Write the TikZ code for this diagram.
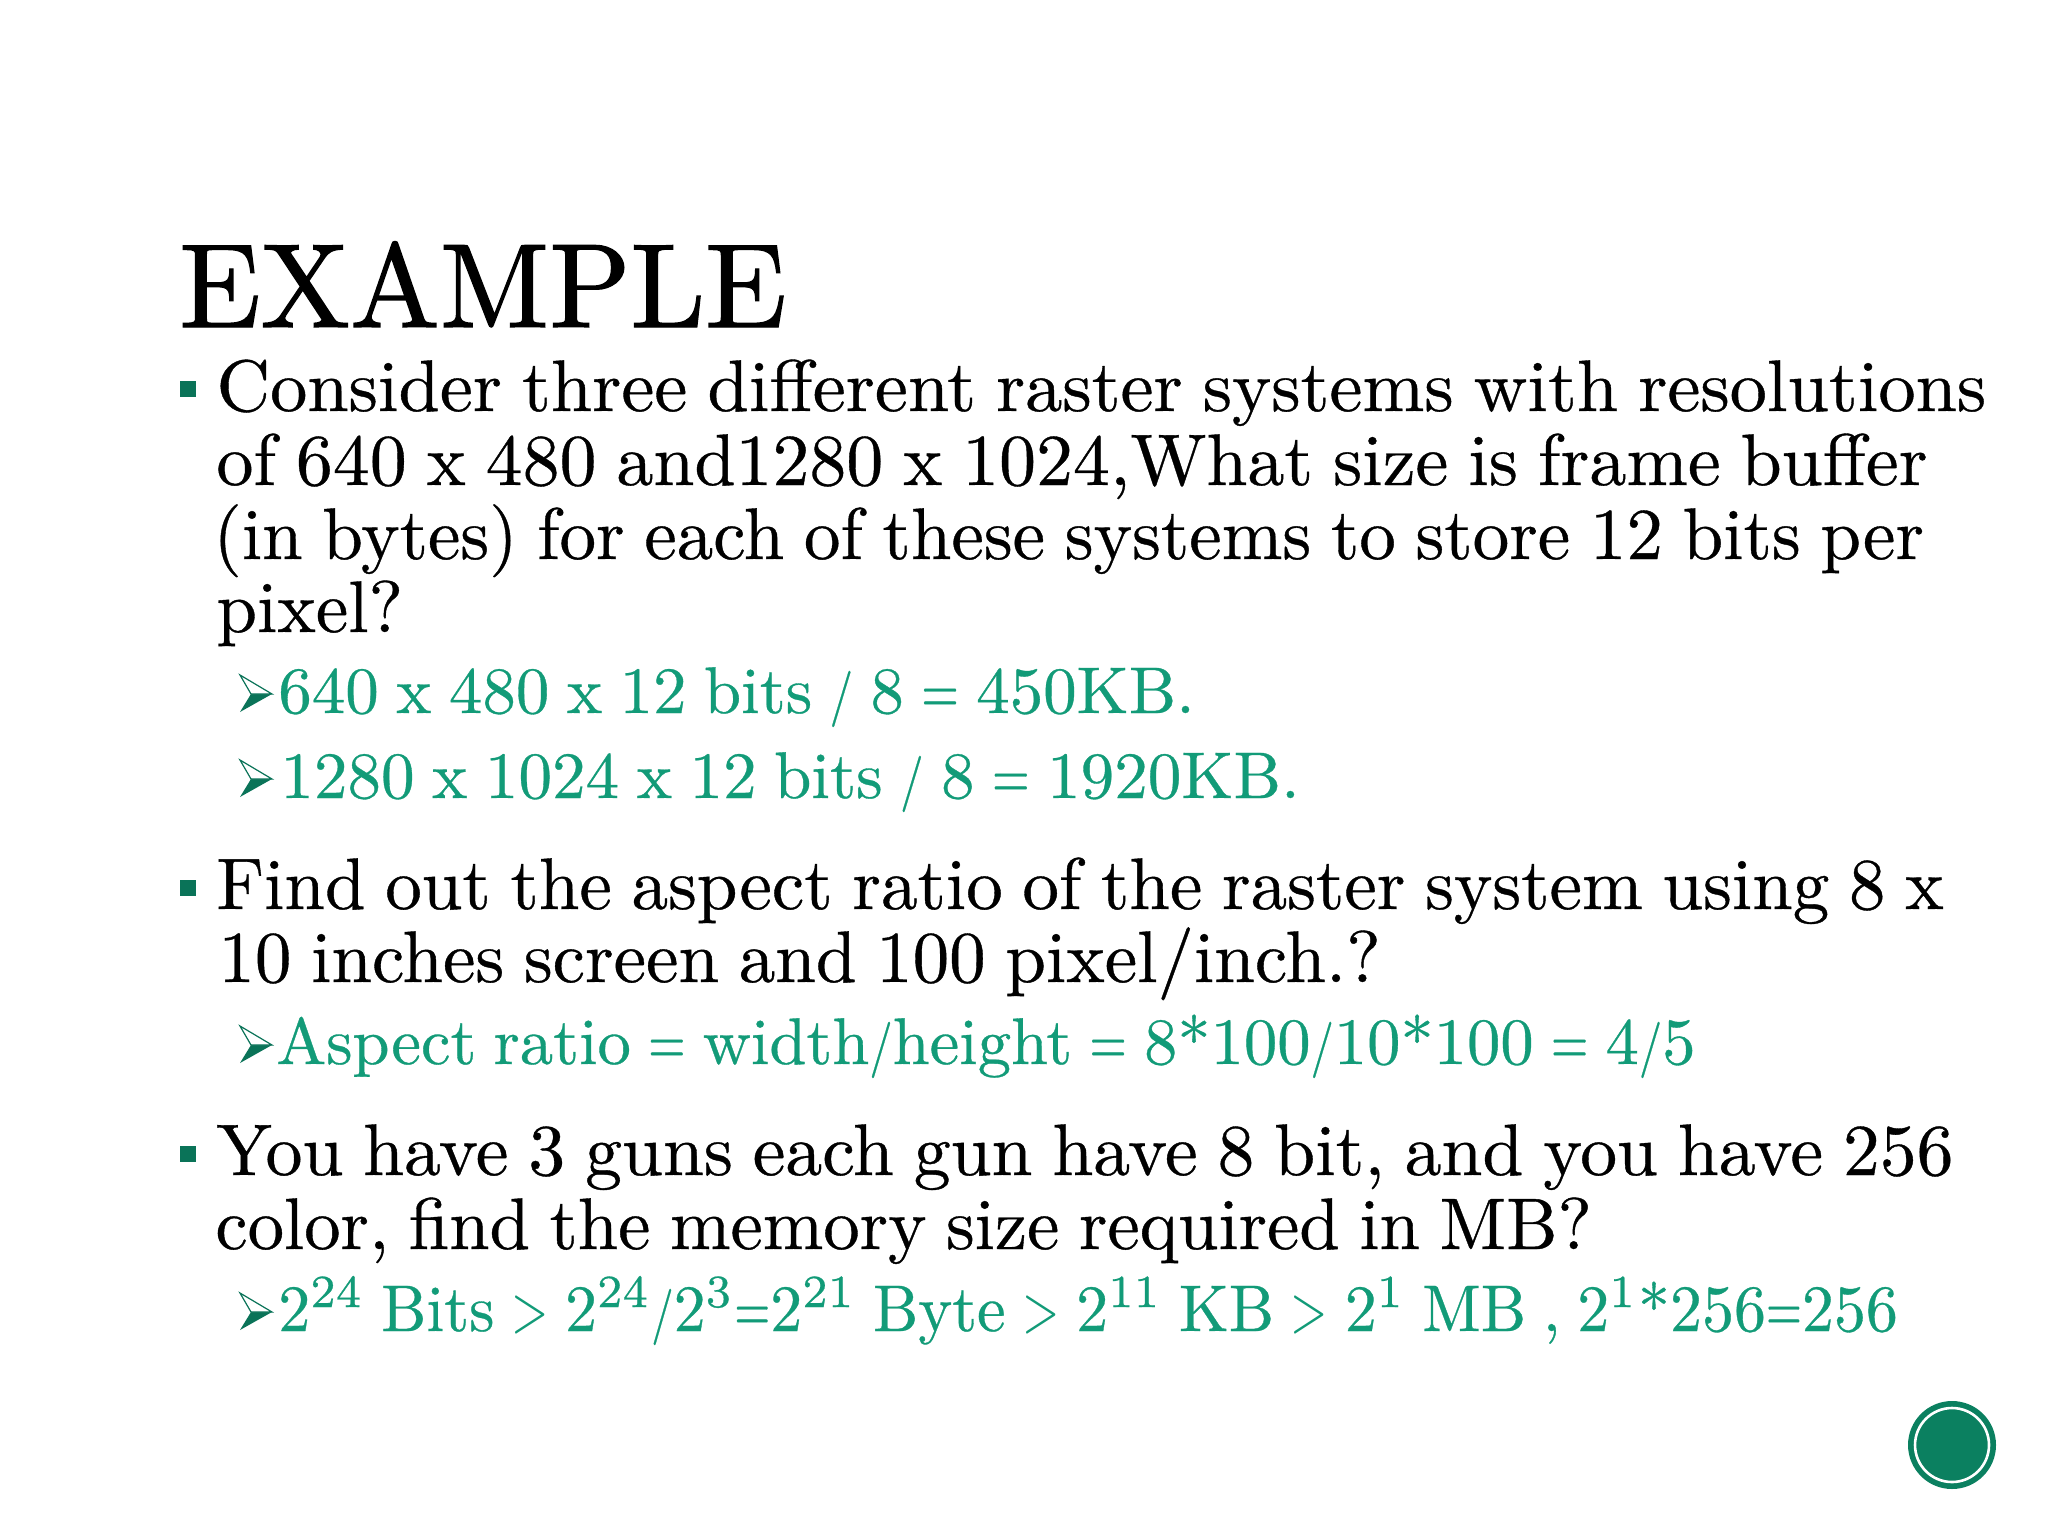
\documentclass[tikz,border=0pt]{standalone}
\usepackage{graphicx}
\usepackage{fontspec}
\usepackage{tikz}
\definecolor{slidegreen}{HTML}{129B78}
\definecolor{darkgreen}{HTML}{0A7358}
\definecolor{badgegreen}{HTML}{0B8060}
\newfontfamily\titlefam{Latin Modern Roman}[FakeBold=1.2]
\newfontfamily\textfam{Latin Modern Roman}[FakeBold=0.5]
\newcommand{\titlefont}{\titlefam}
\newcommand{\bodyfont}{\textfam\spaceskip=2.7pt\relax}
\newcommand{\answerfont}{\textfam\spaceskip=2.6pt\relax}
\newcommand{\nareq}{\scalebox{.72}[1]{=}}
\newcommand{\nargt}{\scalebox{.75}[1]{$>$}}
\newcommand{\narsl}{\scalebox{.7}[.85]{/}}
\tikzset{
  titletxt/.style={anchor=base west, inner sep=0pt, scale=5.97},
  bodytxt/.style={anchor=base west, inner sep=0pt, scale=3.65, text=black},
  answertxt/.style={anchor=base west, inner sep=0pt, scale=3.3, text=slidegreen},
  sqbullet/.style={rectangle, fill=darkgreen, inner sep=0pt, minimum size=8pt},
  arrowbullet/.pic={
    \fill[darkgreen] (0,1) -- (11,19) -- (32,19) -- cycle;
    \draw[darkgreen, fill=white, line width=0.6pt] (0,38) -- (32,19) -- (11,19) -- cycle;
  }
}
\begin{document}
\begin{tikzpicture}[x=0.5pt, y=0.5pt]
  \useasboundingbox[fill=white] (0,0) rectangle (2048,-1536);
  \node (title) [titletxt] at (177,-327) {\titlefont EXAMPLE};
  % first question
  \node (bula) [sqbullet] at (188,-389) {};
  \node (qa1) [bodytxt, xscale=1.018] at (215,-411) {\bodyfont Consider three different raster systems with resolutions};
  \node (qa2) [bodytxt, xscale=1.012] at (215,-485) {\bodyfont of 640 x 480 and1280 x 1024,What size is frame buffer};
  \node (qa3) [bodytxt] at (212,-559) {\bodyfont (in bytes) for each of these systems to store 12 bits per};
  \node (qa4) [bodytxt] at (215,-632) {\bodyfont pixel?};
  \pic at (240,-713) {arrowbullet};
  \node (ansa1) [answertxt, xscale=1.0145] at (277,-713) {\answerfont 640 x 480 x 12 bits \narsl\ 8 \nareq\ 450KB.};
  \pic at (240,-798) {arrowbullet};
  \node (ansa2) [answertxt, xscale=1.017] at (279,-798) {\answerfont 1280 x 1024 x 12 bits \narsl\ 8 \nareq\ 1920KB.};
  % second question
  \node (bulb) [sqbullet] at (188,-888) {};
  \node (qb1) [bodytxt] at (215,-909) {\bodyfont Find out the aspect ratio of the raster system using 8 x};
  \node (qb2) [bodytxt] at (217,-982) {\bodyfont 10 inches screen and 100 pixel/inch.?};
  \pic at (240,-1064) {arrowbullet};
  \node (ansb1) [answertxt, xscale=1.009] at (275,-1064) {\answerfont Aspect ratio \nareq\ width\narsl height \nareq\ 8*100\narsl 10*100 \nareq\ 4\narsl 5};
  % third question
  \node (bulc) [sqbullet] at (188,-1154) {};
  \node (qc1) [bodytxt, xscale=1.009] at (215,-1175) {\bodyfont You have 3 guns each gun have 8 bit, and you have 256};
  \node (qc2) [bodytxt, xscale=0.995] at (214,-1249) {\bodyfont color, find the memory size required in MB?};
  \pic at (240,-1331) {arrowbullet};
  \node (ansc1) [answertxt, xscale=0.97] at (277,-1331) {\answerfont 2\textsuperscript{24} Bits \nargt\ 2\textsuperscript{24}\narsl 2\textsuperscript{3}\nareq 2\textsuperscript{21} Byte \nargt\ 2\textsuperscript{11} KB \nargt\ 2\textsuperscript{1} MB , 2\textsuperscript{1}*256\nareq 256};
  % badge
  \node (badge) [circle, fill=badgegreen, inner sep=0pt, minimum size=44pt] at (1952,-1445) {};
  \node (ring) [circle, draw=white, line width=1.3pt, inner sep=0pt, minimum size=37pt] at (badge) {};
\end{tikzpicture}
\end{document}
